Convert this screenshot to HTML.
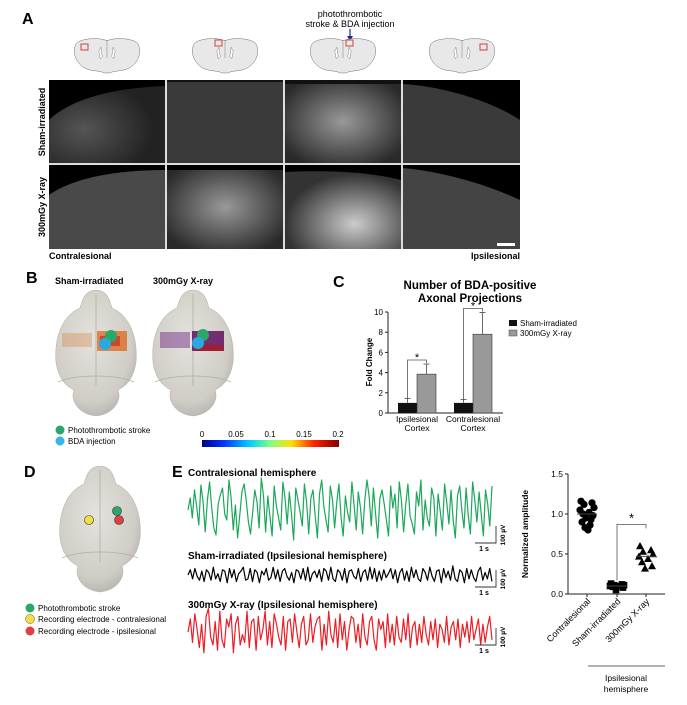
<!DOCTYPE html>
<html><head><meta charset="utf-8"><style>
html,body{margin:0;padding:0;background:#fff;}
body{width:687px;height:700px;overflow:hidden;font-family:"Liberation Sans",sans-serif;}
svg text{font-family:"Liberation Sans",sans-serif;}
</style></head><body>
<svg id="fig" width="687" height="700" viewBox="0 0 687 700" xmlns="http://www.w3.org/2000/svg">
<defs>
<linearGradient id="cbar" x1="0" x2="1" y1="0" y2="0">
<stop offset="0" stop-color="#00008f"/><stop offset="0.15" stop-color="#0030ff"/><stop offset="0.35" stop-color="#00d0ff"/><stop offset="0.5" stop-color="#80ff80"/><stop offset="0.65" stop-color="#ffe000"/><stop offset="0.82" stop-color="#ff2000"/><stop offset="1" stop-color="#800000"/>
</linearGradient>
<radialGradient id="brainG" cx="0.45" cy="0.4" r="0.7"><stop offset="0" stop-color="#e4e2dc"/><stop offset="0.7" stop-color="#cfcdc6"/><stop offset="1" stop-color="#a9a7a1"/></radialGradient>
<radialGradient id="glow1" cx="0.3" cy="0.6" r="0.6"><stop offset="0" stop-color="#555"/><stop offset="1" stop-color="#222"/></radialGradient>
<radialGradient id="glow2" cx="0.5" cy="0.5" r="0.6"><stop offset="0" stop-color="#999"/><stop offset="1" stop-color="#2a2a2a"/></radialGradient>
<radialGradient id="glow3" cx="0.6" cy="0.7" r="0.6"><stop offset="0" stop-color="#ccc"/><stop offset="1" stop-color="#333"/></radialGradient>
<g id="brain">
<path d="M0,-62 C12,-62 14,-50 16,-44 C34,-36 42,-14 40,10 C38,26 30,34 22,38 C26,48 18,62 0,64 C-18,62 -26,48 -22,38 C-30,34 -38,26 -40,10 C-42,-14 -34,-36 -16,-44 C-14,-50 -12,-62 0,-62Z" fill="url(#brainG)" stroke="#b8b6b0" stroke-width="0.6"/>
<path d="M0,-58 L0,34" stroke="#b0aea8" stroke-width="0.8"/>
<path d="M-38,30 C-20,22 20,22 38,30" stroke="#b0aea8" fill="none" stroke-width="0.8"/>
</g>
<g id="coronal">
<path d="M-46,-20 C-40,-30 -10,-30 -2,-26 L2,-26 C10,-30 40,-30 46,-20 C52,-6 44,10 30,16 C20,20 12,18 4,22 L-4,22 C-12,18 -20,20 -30,16 C-44,10 -52,-6 -46,-20Z" fill="#e8e8e8" stroke="#666" stroke-width="0.7"/>
<path d="M0,-26 L0,0" stroke="#777" stroke-width="0.7"/>
<path d="M-12,-10 l3,-6 l2,14 l-3,3Z M12,-10 l-3,-6 l-2,14 l3,3Z" fill="#fff" stroke="#666" stroke-width="0.6"/>
</g>
</defs>

<text x="22" y="24" font-size="16" font-weight="bold">A</text>
<text x="350" y="17" font-size="9" text-anchor="middle">photothrombotic</text>
<text x="350" y="27" font-size="9" text-anchor="middle">stroke &amp; BDA injection</text>
<path d="M350,29 L350,38" stroke="#1a2a8a" stroke-width="1.2"/><path d="M347,36 L353,36 L350,41Z" fill="#1a2a8a"/>
<g><use href="#coronal" transform="translate(107,58) scale(0.68)"/><rect x="81" y="44" width="7" height="6" fill="none" stroke="#d04040"/></g>
<g><use href="#coronal" transform="translate(225,58) scale(0.68)"/><rect x="215" y="40" width="7" height="6" fill="none" stroke="#d04040"/></g>
<g><use href="#coronal" transform="translate(343,58) scale(0.68)"/><rect x="346" y="40" width="7" height="6" fill="none" stroke="#d04040"/></g>
<g><use href="#coronal" transform="translate(462,58) scale(0.68)"/><rect x="480" y="44" width="7" height="6" fill="none" stroke="#d04040"/></g>

<g>
<rect x="49" y="80" width="471" height="169" fill="#ddd"/>
<rect x="49" y="80" width="116" height="83" fill="url(#glow1)"/>
<rect x="167" y="80" width="116" height="83" fill="#3a3a3a"/>
<rect x="285" y="80" width="116" height="83" fill="url(#glow2)"/>
<rect x="403" y="80" width="117" height="83" fill="#3a3a3a"/>
<rect x="49" y="165" width="116" height="84" fill="#494949"/>
<rect x="167" y="165" width="116" height="84" fill="url(#glow2)"/>
<rect x="285" y="165" width="116" height="84" fill="url(#glow3)"/>
<rect x="403" y="165" width="117" height="84" fill="#444"/>
<path d="M49,80 L49,120 C70,100 110,88 165,86 L165,80Z" fill="#000"/>
<path d="M167,80 L283,80 L283,82 L167,82Z" fill="#111"/>
<path d="M285,80 L285,84 L401,84 L401,80Z" fill="#111"/>
<path d="M403,80 L403,84 C440,86 490,100 520,120 L520,80Z" fill="#000"/>
<path d="M49,165 L49,195 C70,180 110,170 165,170 L165,165Z" fill="#000"/>
<path d="M167,165 L167,170 L283,170 L283,165Z" fill="#000"/>
<path d="M285,165 L285,172 C330,170 370,172 401,180 L401,165Z" fill="#000"/>
<path d="M403,165 L403,168 C450,172 500,190 520,200 L520,165Z" fill="#000"/>
<rect x="497" y="243" width="18" height="3" fill="#fff"/>
</g>
<text transform="translate(45,122) rotate(-90)" font-size="9" font-weight="bold" text-anchor="middle">Sham-irradiated</text>
<text transform="translate(45,207) rotate(-90)" font-size="9" font-weight="bold" text-anchor="middle">300mGy X-ray</text>
<text x="49" y="259" font-size="9" font-weight="bold">Contralesional</text>
<text x="520" y="259" font-size="9" font-weight="bold" text-anchor="end">Ipsilesional</text>

<text x="26" y="283" font-size="16" font-weight="bold">B</text>
<text x="55" y="284" font-size="9" font-weight="bold">Sham-irradiated</text>
<text x="153" y="284" font-size="9" font-weight="bold">300mGy X-ray</text>
<g>
<use href="#brain" transform="translate(96,352) scale(1.0)"/>
<rect x="62" y="333" width="30" height="14" fill="#d88040" opacity="0.35"/>
<rect x="97" y="331" width="30" height="20" fill="#e06010" opacity="0.7"/>
<rect x="100" y="336" width="20" height="10" fill="#c02020" opacity="0.6"/>
<circle cx="111" cy="336" r="6" fill="#2aa86a"/><circle cx="105" cy="344" r="6" fill="#2aa8e0"/>
</g>
<g>
<use href="#brain" transform="translate(193,352) scale(1.0)"/>
<rect x="160" y="332" width="30" height="16" fill="#6a2080" opacity="0.45"/>
<rect x="192" y="331" width="32" height="20" fill="#601060" opacity="0.85"/>
<rect x="195" y="345" width="28" height="6" fill="#b01818" opacity="0.7"/>
<circle cx="203" cy="335" r="6" fill="#2aa86a"/><circle cx="198" cy="343" r="6" fill="#2aa8e0"/>
</g>
<circle cx="60" cy="430" r="4.5" fill="#2aa86a"/>
<text x="68" y="433" font-size="8">Photothrombotic stroke</text>
<circle cx="60" cy="441" r="4.5" fill="#35b5ea"/>
<text x="68" y="444" font-size="8">BDA injection</text>
<g>
<rect x="202" y="440" width="137" height="7" fill="url(#cbar)"/>
<text x="202" y="437" font-size="8" text-anchor="middle">0</text>
<text x="236" y="437" font-size="8" text-anchor="middle">0.05</text>
<text x="270" y="437" font-size="8" text-anchor="middle">0.1</text>
<text x="304" y="437" font-size="8" text-anchor="middle">0.15</text>
<text x="338" y="437" font-size="8" text-anchor="middle">0.2</text>
</g>

<text x="333" y="287" font-size="16" font-weight="bold">C</text>
<text x="470" y="289" font-size="11.5" font-weight="bold" text-anchor="middle">Number of BDA-positive</text>
<text x="470" y="302" font-size="11.5" font-weight="bold" text-anchor="middle">Axonal Projections</text>
<g id="chartC"></g>
<text transform="translate(372,362) rotate(-90)" font-size="8" font-weight="bold" text-anchor="middle">Fold Change</text>
<rect x="509" y="320" width="8" height="6" fill="#111"/>
<text x="520" y="326" font-size="8">Sham-irradiated</text>
<rect x="509" y="330" width="8" height="6" fill="#999" stroke="#444" stroke-width="0.5"/>
<text x="520" y="336" font-size="8">300mGy X-ray</text>

<text x="24" y="477" font-size="16" font-weight="bold">D</text>
<g>
<use href="#brain" transform="translate(100,528) scale(1.0)"/>
<circle cx="117" cy="511" r="4.5" fill="#2aa86a" stroke="#333" stroke-width="0.6"/>
<circle cx="119" cy="520" r="4.5" fill="#e04040" stroke="#333" stroke-width="0.6"/>
<circle cx="89" cy="520" r="4.5" fill="#f0e040" stroke="#333" stroke-width="0.6"/>
</g>
<circle cx="30" cy="608" r="4.5" fill="#2aa86a"/>
<text x="38" y="611" font-size="8">Photothrombotic stroke</text>
<circle cx="30" cy="619" r="4.5" fill="#f0e040" stroke="#555" stroke-width="0.5"/>
<text x="38" y="622" font-size="8">Recording electrode - contralesional</text>
<circle cx="30" cy="631" r="4.5" fill="#e04040"/>
<text x="38" y="634" font-size="8">Recording electrode - ipsilesional</text>

<text x="172" y="477" font-size="16" font-weight="bold">E</text>
<text x="188" y="476" font-size="10" font-weight="bold">Contralesional hemisphere</text>
<text x="188" y="559" font-size="10" font-weight="bold">Sham-irradiated (Ipsilesional hemisphere)</text>
<text x="188" y="608" font-size="10" font-weight="bold">300mGy X-ray (Ipsilesional hemisphere)</text>
<g id="traces"></g>
<g id="chartE"></g>
<text transform="translate(528,534) rotate(-90)" font-size="8.5" font-weight="bold" text-anchor="middle">Normalized amplitude</text>
<line x1="588" y1="666" x2="665" y2="666" stroke="#333" stroke-width="0.8"/>
<text x="626" y="681" font-size="8.5" text-anchor="middle">Ipsilesional</text>
<text x="626" y="692" font-size="8.5" text-anchor="middle">hemisphere</text>
</svg>
<script>
const NS="http://www.w3.org/2000/svg";
function mk(tag,attrs,parent){const e=document.createElementNS(NS,tag);for(const k in attrs)e.setAttribute(k,attrs[k]);parent.appendChild(e);return e;}

const cCategories=["Ipsilesional\nCortex","Contralesional\nCortex"];
const cSham=[1.0,1.0];
const cShamErr=[0.45,0.35];
const cXray=[3.85,7.8];
const cXrayErr=[1.0,2.15];
const cTicks=[0,2,4,6,8,10];
(function(){
  const g=document.getElementById('chartC');
  const y0=413,y1=312,x0=388;
  const ys=v=>y0-(v/10)*(y0-y1);
  const groupX=[398,454],bw=19;
  mk('line',{x1:x0,y1:y1,x2:x0,y2:y0,stroke:'#222','stroke-width':1},g);
  mk('line',{x1:x0,y1:y0,x2:503,y2:y0,stroke:'#222','stroke-width':1},g);
  cTicks.forEach(t=>{
    mk('line',{x1:x0-3,y1:ys(t),x2:x0,y2:ys(t),stroke:'#222'},g);
    const tx=mk('text',{x:x0-5,y:ys(t)+3,'font-size':8,'text-anchor':'end'},g);tx.textContent=t;
    
    
  });
  cCategories.forEach((c,i)=>{
    const gx=groupX[i];
    const b1=mk('rect',{x:gx,y:ys(cSham[i]),width:bw,height:y0-ys(cSham[i]),fill:'#111'},g);
    
    
    const b2=mk('rect',{x:gx+bw,y:ys(cXray[i]),width:bw,height:y0-ys(cXray[i]),fill:'#999',stroke:'#333','stroke-width':0.6},g);
    
    
    [[gx+bw/2,cSham[i],cShamErr[i]],[gx+bw*1.5,cXray[i],cXrayErr[i]]].forEach(([cx,v,e])=>{
      mk('line',{x1:cx,y1:ys(v),x2:cx,y2:ys(v+e),stroke:'#444','stroke-width':0.8},g);
      mk('line',{x1:cx-3,y1:ys(v+e),x2:cx+3,y2:ys(v+e),stroke:'#444','stroke-width':0.8},g);
    });
    const top=ys(cXray[i]+cXrayErr[i])-4;
    mk('path',{d:`M${gx+bw/2},${ys(cSham[i]+cShamErr[i])} L${gx+bw/2},${top} L${gx+bw*1.5},${top} L${gx+bw*1.5},${top+3}`,fill:'none',stroke:'#555','stroke-width':0.8},g);
    const st=mk('text',{x:gx+bw,y:top+1,'font-size':11,'text-anchor':'middle'},g);st.textContent='*';
    c.split('\n').forEach((l,j)=>{const t=mk('text',{x:gx+bw,y:422+j*9,'font-size':8.5,'text-anchor':'middle'},g);t.textContent=l;
      
      });
  });
})();

const traceContra=[0,12,-8,20,4,-15,25,8,-22,10,28,2,-18,-25,6,15,22,-4,-10,30,12,-20,5,-28,-6,18,26,10,-12,-24,-2,20,8,-18,32,14,-22,14,-6,-26,24,4,-8,-20,28,12,-14,18,-4,-30,22,10,-2,-16,26,8,-24,12,20,-6,-28,16,30,4,-10,-22,24,10,-18,8,26,-8,-26,14,-2,-12,28,6,-20,18,2,-24,10,30,14,-16,22,-4,-28,12,20,6,-10,-26,24,2,16,-18,28,10,-22,6,26,-6,-14,-24,18,4,30,-20,10,-8,-16,22,12,-26,16,-2,-20,26,8,-14,20,-10,-28,14,24,0,-18,22,-6,-24,28,10,-12,18,-4,-26,20,6,-16,24];
const traceSham=[0,4,-3,5,-1,-4,3,-5,4,2,-4,6,-3,1,-5,4,3,-6,5,-2,4,-5,1,3,6,-4,-3,5,-5,4,2,-6,3,0,5,-4,-2,6,-3,4,-5,3,5,-1,-4,2,-6,4,3,-3,5,-4,6,-5,1,3,-2,4,-5,5,3,-4,6,-3,-5,4,2,-4,5,-6,3,4,-1,-3,5,-5,2,4,-4,6,-3,5,-5,3,-4,4,-2,1,5,-3,4,-6,2,5,-4,3,-5,6,-2,4,-3,-5,5,2,-4,6,-1,-5,3,4,-6,5,-2,3,-4,7,-3,-5,4,2,-6,5,-3,4,-2,-5,3,6,-4,2,-3,5,-5];
const traceXray=[0,10,-8,14,2,-12,6,-16,12,18,-4,-10,8,-14,16,-6,-12,10,4,14,-16,6,12,-10,-2,-8,16,-12,8,10,-14,12,-6,2,16,-10,8,-12,14,6,-4,-10,12,-14,8,10,-8,14,0,-12,6,12,-10,-6,14,-8,4,10,12,-14,6,-10,16,-2,-8,10,-12,14,-6,8,-14,2,12,10,-8,6,-12,14,-4,-10,8,12,-6,-14,10,2,8,-12,14,-8,6,-10,12,-4,-8,10,-6,14,-12,4,8,-10,6,-8,12,-2,-10,8,-6,10,-12,6,2,-8,12,-10,4,8,-6,10,-12,6,-4,8,-8,12,-6,2,10,-10,6,-8,4,12,-6];
(function(){
  const g=document.getElementById('traces');
  const xL=188,xR=492;
  const specs=[[traceContra,510,1.0,'#1aa85a','trace-contralesional'],[traceSham,575,1.3,'#000','trace-sham'],[traceXray,632,1.3,'#ee1c24','trace-xray']];
  specs.forEach(([d,cy,sc,col,name])=>{
    const n=d.length;let p='';
    d.forEach((v,i)=>{p+=(i?'L':'M')+(xL+(xR-xL)*i/(n-1)).toFixed(1)+','+(cy-v*sc).toFixed(1);});
    const path=mk('path',{d:p,fill:'none',stroke:col,'stroke-width':1.2,'stroke-linejoin':'round'},g);
    
    
  });
  [[543,520],[587,578],[645,641]].forEach(([by,ty])=>{
    mk('path',{d:`M475,${by} L496,${by} L496,${by-17}`,fill:'none',stroke:'#333','stroke-width':0.9},g);
    const t=mk('text',{x:484,y:by+8,'font-size':7,'font-weight':'bold','text-anchor':'middle'},g);t.textContent='1 s';
    const t2=mk('text',{transform:`translate(505,${by-8}) rotate(-90)`,'font-size':6.5,'font-weight':'bold','text-anchor':'middle'},g);t2.textContent='100 µV';
  });
})();

const eCategories=["Contralesional","Sham-irradiated","300mGy X-ray"];
const eContra=[1.16,1.14,1.12,1.08,1.05,1.02,1.0,0.98,0.95,0.93,0.9,0.86,0.83,0.8];
const eSham=[0.13,0.12,0.11,0.11,0.1,0.1,0.09,0.08,0.05];
const eXray=[0.6,0.55,0.53,0.5,0.47,0.44,0.4,0.35,0.32];
const eMeans=[1.0,0.1,0.47];
const eTicks=[0,0.5,1.0,1.5];
(function(){
  const g=document.getElementById('chartE');
  const x0=568,y0=594,y1=474;
  const ys=v=>y0-(v/1.5)*(y0-y1);
  const cx=[587,617,646];
  mk('line',{x1:x0,y1:y1,x2:x0,y2:y0,stroke:'#222','stroke-width':1},g);
  mk('line',{x1:x0,y1:y0,x2:665,y2:y0,stroke:'#222','stroke-width':1},g);
  eTicks.forEach(t=>{
    mk('line',{x1:x0-3,y1:ys(t),x2:x0,y2:ys(t),stroke:'#222'},g);
    const tx=mk('text',{x:x0-5,y:ys(t)+3,'font-size':8.5,'text-anchor':'end'},g);tx.textContent=t.toFixed(1);
    
    
  });
  const offs=[-6,5,-3,7,-7,2,-4,6,-1,4,-5,3,-2,1];
  [eContra,eSham,eXray].forEach((arr,i)=>{
    mk('line',{x1:cx[i],y1:y0,x2:cx[i],y2:y0+3,stroke:'#222'},g);
    arr.forEach((v,j)=>{
      const x=cx[i]+offs[j%offs.length],y=ys(v);let m;
      if(i===0)m=mk('circle',{cx:x,cy:y,r:3.6,fill:'#000'},g);
      else if(i===1)m=mk('rect',{x:x-3.3,y:y-3.3,width:6.6,height:6.6,fill:'#000'},g);
      else m=mk('path',{d:`M${x},${y-4} L${x+4},${y+3.2} L${x-4},${y+3.2}Z`,fill:'#000'},g);
      
      
    });
    mk('line',{x1:cx[i]-10,y1:ys(eMeans[i]),x2:cx[i]+10,y2:ys(eMeans[i]),stroke:'#444','stroke-width':1},g);
    const t=mk('text',{transform:`translate(${cx[i]+4},${y0+8}) rotate(-45)`,'font-size':9,'text-anchor':'end'},g);t.textContent=eCategories[i];
    
    
  });
  const top=ys(0.87);
  mk('path',{d:`M${cx[1]},${ys(0.17)} L${cx[1]},${top} L${cx[2]},${top} L${cx[2]},${top+4}`,fill:'none',stroke:'#555','stroke-width':0.8},g);
  const st=mk('text',{x:(cx[1]+cx[2])/2,y:top-2,'font-size':13,'text-anchor':'middle'},g);st.textContent='*';
})();
</script>
</body></html>
